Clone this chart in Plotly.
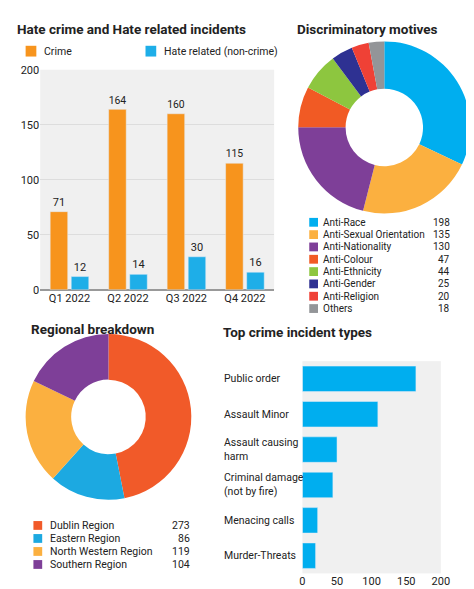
import plotly.graph_objects as go

W, H = 474, 589
def px(x): return x / W
def py(y): return 1 - y / H

quarters = ["Q1 2022", "Q2 2022", "Q3 2022", "Q4 2022"]
crime = [71, 164, 160, 115]
hate_related = [12, 14, 30, 16]

motives = ["Anti-Race", "Anti-Sexual Orientation", "Anti-Nationality", "Anti-Colour",
           "Anti-Ethnicity", "Anti-Gender", "Anti-Religion", "Others"]
motive_vals = [198, 135, 130, 47, 44, 25, 20, 18]
motive_cols = ["#00AEEF", "#FBB040", "#7E3F98", "#F15A24", "#8DC63F", "#2E3192", "#EF4136", "#939598"]

regions = ["Dublin Region", "Eastern Region", "North Western Region", "Southern Region"]
region_vals = [273, 86, 119, 104]
region_cols = ["#F15A29", "#1CA9E1", "#FBB040", "#7E3F98"]

types = ["Public order", "Assault Minor", "Assault causing<br>harm",
         "Criminal damage<br>(not by fire)", "Menacing calls", "Murder-Threats"]
type_vals = [164, 109, 50, 44, 22, 19]

ORANGE, BLUE = "#F7941D", "#1EAEE8"
FONT = "Roboto"
fig = go.Figure()

fig.add_trace(go.Bar(x=quarters, y=crime, marker_color=ORANGE, text=crime, textposition="outside",
                     xaxis="x", yaxis="y", width=0.3, offset=-0.33, cliponaxis=False,
                     textfont=dict(size=11)))
fig.add_trace(go.Bar(x=quarters, y=hate_related, marker_color=BLUE, text=hate_related, textposition="outside",
                     xaxis="x", yaxis="y", width=0.3, offset=0.03, cliponaxis=False,
                     textfont=dict(size=11)))

fig.add_trace(go.Pie(values=motive_vals, labels=motives, marker=dict(colors=motive_cols),
                     hole=0.45, sort=False, direction="clockwise", textinfo="none",
                     domain=dict(x=[px(294), px(472)], y=[py(204), py(28)])))
fig.add_trace(go.Pie(values=region_vals, labels=regions, marker=dict(colors=region_cols),
                     hole=0.45, sort=False, direction="clockwise", textinfo="none",
                     domain=dict(x=[px(15), px(185)], y=[py(498), py(326)])))

fig.add_trace(go.Bar(y=list(range(len(types))), x=type_vals, orientation="h", marker_color="#00AEEF",
                     xaxis="x2", yaxis="y2", width=0.72))

ann, shapes = [], []
def txt(x, y, s, size=10.5, anchor="left", bold=False, yref="paper"):
    ann.append(dict(x=px(x), y=(py(y) if yref == "paper" else y), xref="paper", yref=yref,
                    text=(f"<b>{s}</b>" if bold else s), showarrow=False, xanchor=anchor, align=anchor,
                    yanchor="middle", font=dict(size=size, color="#222", family=FONT)))
def sq(x, y, c, s=10):
    shapes.append(dict(type="rect", xref="paper", yref="paper", x0=px(x), x1=px(x + s),
                       y0=py(y + s / 2), y1=py(y - s / 2), fillcolor=c, line_width=0))

txt(4, 15, "Hate crime and Hate related incidents", 13.5, bold=True)
txt(291, 15, "Discriminatory motives", 13.5, bold=True)
txt(18, 322, "Regional breakdown", 13.5, bold=True)
txt(215, 325, "Top crime incident types", 13.5, bold=True)

sq(15, 38, ORANGE, 11); txt(32, 38, "Crime")
sq(138, 38, BLUE, 11); txt(155, 38, "Hate related (non-crime)")

for i, (m, v, c) in enumerate(zip(motives, motive_vals, motive_cols)):
    y = 213 + i * 12.6
    sq(306, y, c, 9); txt(318, y, m, size=10); txt(452, y, str(v), size=10, anchor="right")
for i, (r, v, c) in enumerate(zip(regions, region_vals, region_cols)):
    y = 523 + i * 13.3
    sq(23, y, c, 9); txt(38, y, r); txt(186, y, str(v), anchor="right")
for i, t in enumerate(types):
    txt(216, i, t, yref="y2")

fig.update_layout(
    width=W, height=H, margin=dict(l=0, r=0, t=0, b=0), showlegend=False,
    paper_bgcolor="white", plot_bgcolor="#F0F0F0", barmode="overlay",
    font=dict(family=FONT, size=11, color="#222"),
    xaxis=dict(domain=[px(30), px(270)], anchor="y", showgrid=False, ticks="", tickfont=dict(size=11)),
    yaxis=dict(domain=[py(282), py(57)], anchor="x", range=[0, 200], dtick=50, gridcolor="#DDDDDD",
               zeroline=True, zerolinecolor="#999", ticks="", tickfont=dict(size=11)),
    xaxis2=dict(domain=[px(299), px(441)], anchor="y2", range=[0, 200], dtick=50,
                showgrid=False, zeroline=False, tickfont=dict(size=11)),
    yaxis2=dict(domain=[py(572), py(355)], anchor="x2", range=[5.5, -0.5], showticklabels=False,
                showgrid=False, zeroline=False),
    annotations=ann, shapes=shapes,
)
fig.write_html("out.html")
